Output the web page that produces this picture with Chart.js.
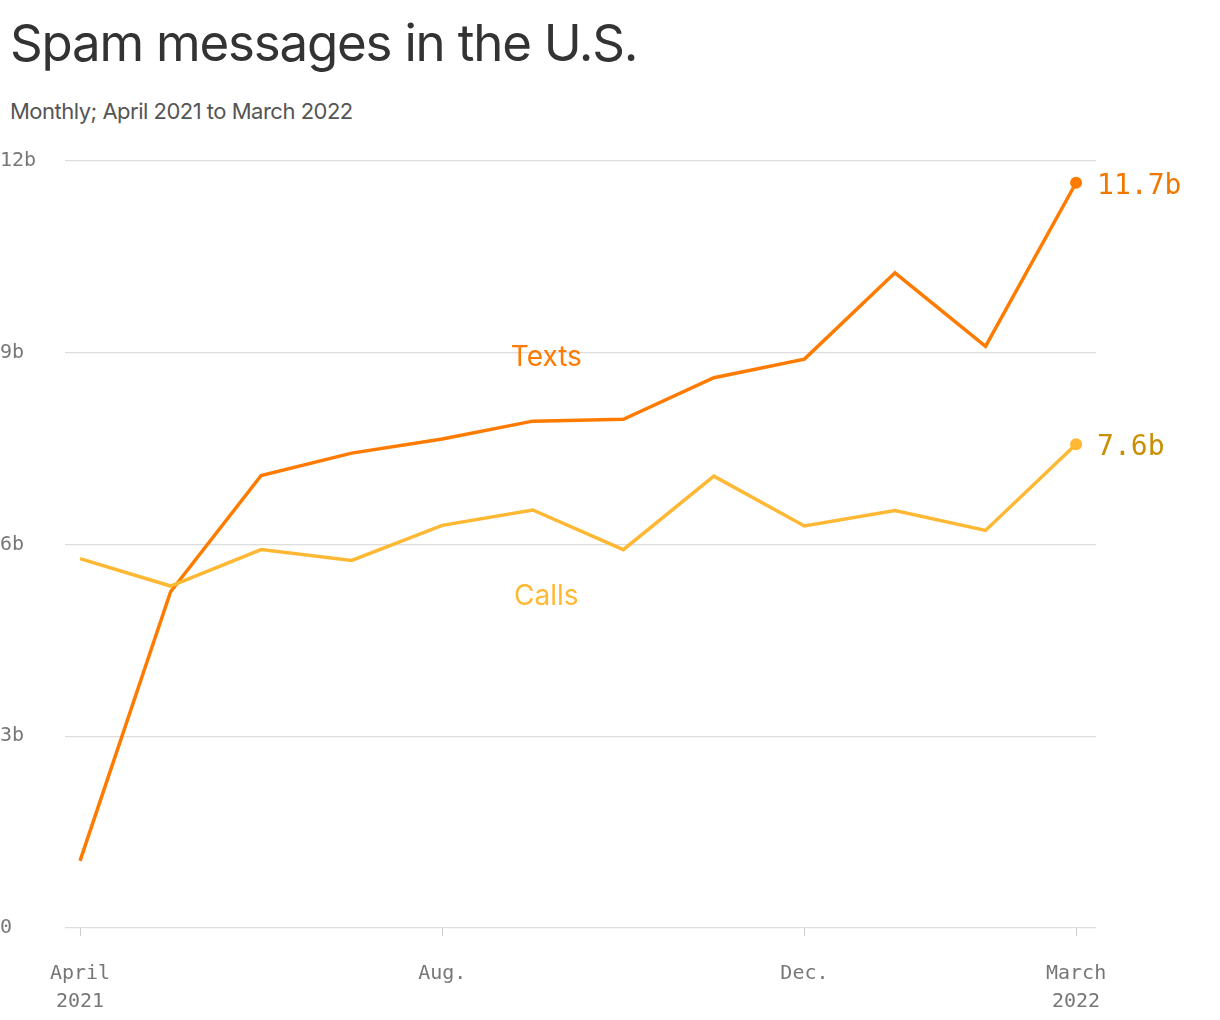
<!DOCTYPE html>
<html>
<head>
<meta charset="utf-8">
<script src="https://cdn.jsdelivr.net/npm/chart.js@4"></script>
<style>
  body { margin: 0; background: #fff; font-family: Inter, 'Noto Sans', sans-serif; }
  #wrap { position: relative; width: 1220px; height: 1020px; }
  #title { position: absolute; left: 10px; top: 12px; font-size: 51px; color: #333; letter-spacing: -1.2px; }
  #sub { position: absolute; left: 10px; top: 98px; font-size: 22px; color: #555; letter-spacing: -0.5px; }
  canvas { position: absolute; left: 0; top: 0; }
</style>
</head>
<body>
<div id="wrap">
  <div id="title">Spam messages in the U.S.</div>
  <div id="sub">Monthly; April 2021 to March 2022</div>
  <canvas id="c" width="1220" height="1020"></canvas>
</div>
<script>
  // ---- Data (billions) -------------------------------------
  var months = ['Apr', 'May', 'Jun', 'Jul', 'Aug', 'Sep', 'Oct', 'Nov', 'Dec', 'Jan', 'Feb', 'Mar'];
  var texts = [1.05, 5.26, 7.08, 7.43, 7.65, 7.93, 7.96, 8.61, 8.9, 10.25, 9.1, 11.66];
  var calls = [5.78, 5.35, 5.92, 5.75, 6.3, 6.54, 5.92, 7.07, 6.29, 6.53, 6.22, 7.57];
  var xTickIdx = [0, 4, 8, 11];
  var xTickLabels = [['April', '2021'], 'Aug.', 'Dec.', ['March', '2022']];
  var yTicks = [0, 3, 6, 9, 12];

  var TEXT_COLOR = '#ff7b00';
  var CALL_COLOR = '#ffb833';
  var mono = "'DejaVu Sans Mono', 'Liberation Mono', monospace";

  function pts(arr) {
    return arr.map(function (v, i) { return { x: i, y: v }; });
  }

  // ---- Labels drawn in data coordinates --------------------
  var labelPlugin = {
    id: 'labels',
    afterDatasetsDraw: function (chart) {
      var ctx = chart.ctx, xs = chart.scales.x, ys = chart.scales.y;
      ctx.save();
      ctx.textBaseline = 'middle';
      ctx.font = "28px Inter, 'Noto Sans', sans-serif";
      ctx.textAlign = 'center';
      ctx.fillStyle = TEXT_COLOR;
      ctx.fillText('Texts', xs.getPixelForValue(5.15), ys.getPixelForValue(8.93));
      ctx.fillStyle = CALL_COLOR;
      ctx.fillText('Calls', xs.getPixelForValue(5.15), ys.getPixelForValue(5.18));
      ctx.font = '28px ' + mono;
      ctx.textAlign = 'left';
      ctx.fillStyle = '#f07800';
      ctx.fillText('11.7b', xs.getPixelForValue(11) + 21, ys.getPixelForValue(texts[11]) + 4);
      ctx.fillStyle = '#c98f00';
      ctx.fillText('7.6b', xs.getPixelForValue(11) + 21, ys.getPixelForValue(calls[11]) + 4);
      ctx.restore();
    }
  };

  function lineSet(label, data, color) {
    return {
      label: label,
      data: pts(data),
      borderColor: color,
      backgroundColor: color,
      borderWidth: 3.5,
      tension: 0,
      pointRadius: data.map(function (v, i) { return i === data.length - 1 ? 6 : 0; }),
      pointBorderWidth: 0
    };
  }

  new Chart(document.getElementById('c'), {
    type: 'line',
    data: { datasets: [lineSet('Calls', calls, CALL_COLOR), lineSet('Texts', texts, TEXT_COLOR)] },
    plugins: [labelPlugin],
    options: {
      responsive: false,
      animation: false,
      layout: { padding: { top: 161, right: 124, left: 0, bottom: 0 } },
      plugins: { legend: { display: false }, tooltip: { enabled: false } },
      scales: {
        x: {
          type: 'linear',
          min: -0.166,
          max: 11.22,
          afterBuildTicks: function (s) { s.ticks = xTickIdx.map(function (v) { return { value: v }; }); },
          afterFit: function (s) { s.height = 92; },
          grid: { drawOnChartArea: false, drawTicks: true, tickLength: 8, color: '#ccc' },
          border: { display: false },
          ticks: {
            autoSkip: false,
            maxRotation: 0,
            padding: 24,
            color: '#777',
            font: { family: mono, size: 20, lineHeight: 1.4 },
            callback: function (v) { return xTickLabels[xTickIdx.indexOf(v)]; }
          }
        },
        y: {
          min: 0,
          max: 12,
          afterBuildTicks: function (s) { s.ticks = yTicks.map(function (v) { return { value: v }; }); },
          afterFit: function (s) { s.width = 65; },
          grid: { color: '#dddddd', drawTicks: false, lineWidth: 1.3 },
          border: { display: false },
          ticks: {
            crossAlign: 'far',
            padding: 10,
            color: '#777',
            font: { family: mono, size: 20 },
            callback: function (v) { return v === 0 ? '0' : v + 'b'; }
          }
        }
      }
    }
  });
</script>
</body>
</html>
